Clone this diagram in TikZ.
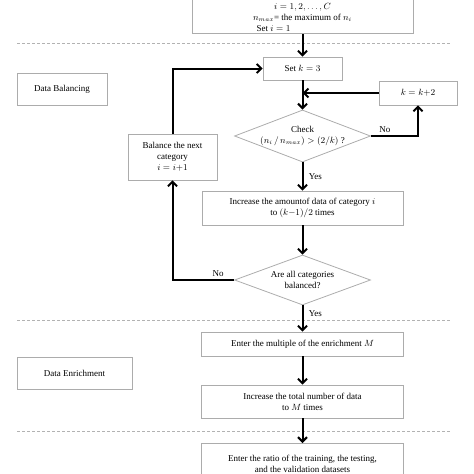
\documentclass[tikz,border=0pt]{standalone}
\usepackage{amsmath,amssymb}
\usepackage{fontspec}
\setmainfont{Liberation Serif}
\usepackage{tikz}
\usetikzlibrary{arrows.meta,positioning,shapes.geometric,calc}
\usepackage{xcolor}

\begin{document}
\begin{tikzpicture}[
    x=1pt, y=-1pt,
    font=\fontsize{9}{11}\selectfont,
    proc/.style={draw=gray!65, line width=0.8pt, align=center, inner sep=2pt},
    stage/.style={draw=gray!65, line width=0.8pt, align=center},
    decide/.style={draw=gray!65, line width=0.8pt, diamond, aspect=2.6, inner sep=0pt, align=center},
    arr/.style={-{Straight Barb[length=4.5pt,width=9pt,line width=2pt]}, line width=2pt},
    sep/.style={draw=gray!60, line width=0.8pt, dash pattern=on 3pt off 2pt},
    >=Stealth
  ]
  \useasboundingbox (0,0) rectangle (474,474);
  \clip (0,0) rectangle (474,474);

  % Stages
  \node[stage, minimum width=90, minimum height=32] (bal) at (62, 89) {Data Balancing};
  \node[stage, minimum width=115, minimum height=32] (enr) at (74.5, 373) {Data Enrichment};

  % Separators
  \foreach \y in {43, 320, 431} {
    \draw[sep] (17, \y) -- (450, \y);
  }

  % Balancing loop
  \node[proc, anchor=south, minimum width=221] (init) at (302.5, 34)
    {\strut\\ $i=1,2,\ldots,C$\\ $n_{max}$= the maximum of $n_i$\\ Set $i=1$\hspace*{58pt}};
  \node[proc, minimum width=79, minimum height=23] (setk) at (302.5, 68.5) {Set $k=3$};
  \node[proc, minimum width=78, minimum height=24] (kinc) at (418, 93) {$k=k{+}2$};
  \node[decide, minimum width=136, minimum height=52] (check) at (302.5, 136)
    {Check\\ $(n_i\,/\,n_{max}) > (2/k)$ ?};
  \node[proc, minimum width=201, minimum height=34] (incr) at (302.5, 208)
    {Increase the amountof data of category $i$\\ to $(k{-}1)/2$ times};
  \node[decide, minimum width=136, minimum height=50] (done) at (302.5, 280)
    {Are all categories\\ balanced?};
  \node[proc, minimum width=89, minimum height=46] (next) at (172.5, 157)
    {Balance the next\\ category\\ $i=i{+}1$};

  % Enrichment
  \node[proc, minimum width=202, minimum height=24] (mult) at (302.5, 344)
    {Enter the multiple of the enrichment $M$};
  \node[proc, minimum width=202, minimum height=33] (total) at (302.5, 401.5)
    {Increase the total number of data\\ to $M$ times};
  \node[proc, anchor=north, minimum width=202, minimum height=40] (ratio) at (302.5, 443)
    {Enter the ratio of the training, the testing,\\ and the validation datasets};

  % Connectors
  \draw[arr] (init.south) -- (setk.north);
  \draw[arr] (setk.south) -- (check.north);
  \draw[arr] (kinc.west) -- (kinc.west -| setk.south);
  \draw[arr] (check.east) -- (check.east -| kinc.south) -- (kinc.south);
  \node[anchor=south] at ($(check.east)+(14,0)$) {No};
  \draw[arr] (check.south) -- (incr.north) node[midway, right=2pt] {Yes};
  \draw[arr] (incr.south) -- (done.north);
  \draw[arr] (done.west) -- (done.west -| next.south) -- (next.south);
  \node[anchor=south] at ($(done.west)+(-16,0)$) {No};
  \draw[arr] (next.north) |- (setk.west);
  \draw[arr] (done.south) -- (mult.north) node[pos=0.3, right=2pt] {Yes};
  \draw[arr] (mult.south) -- (total.north);
  \draw[arr] (total.south) -- (ratio.north);
\end{tikzpicture}
\end{document}
